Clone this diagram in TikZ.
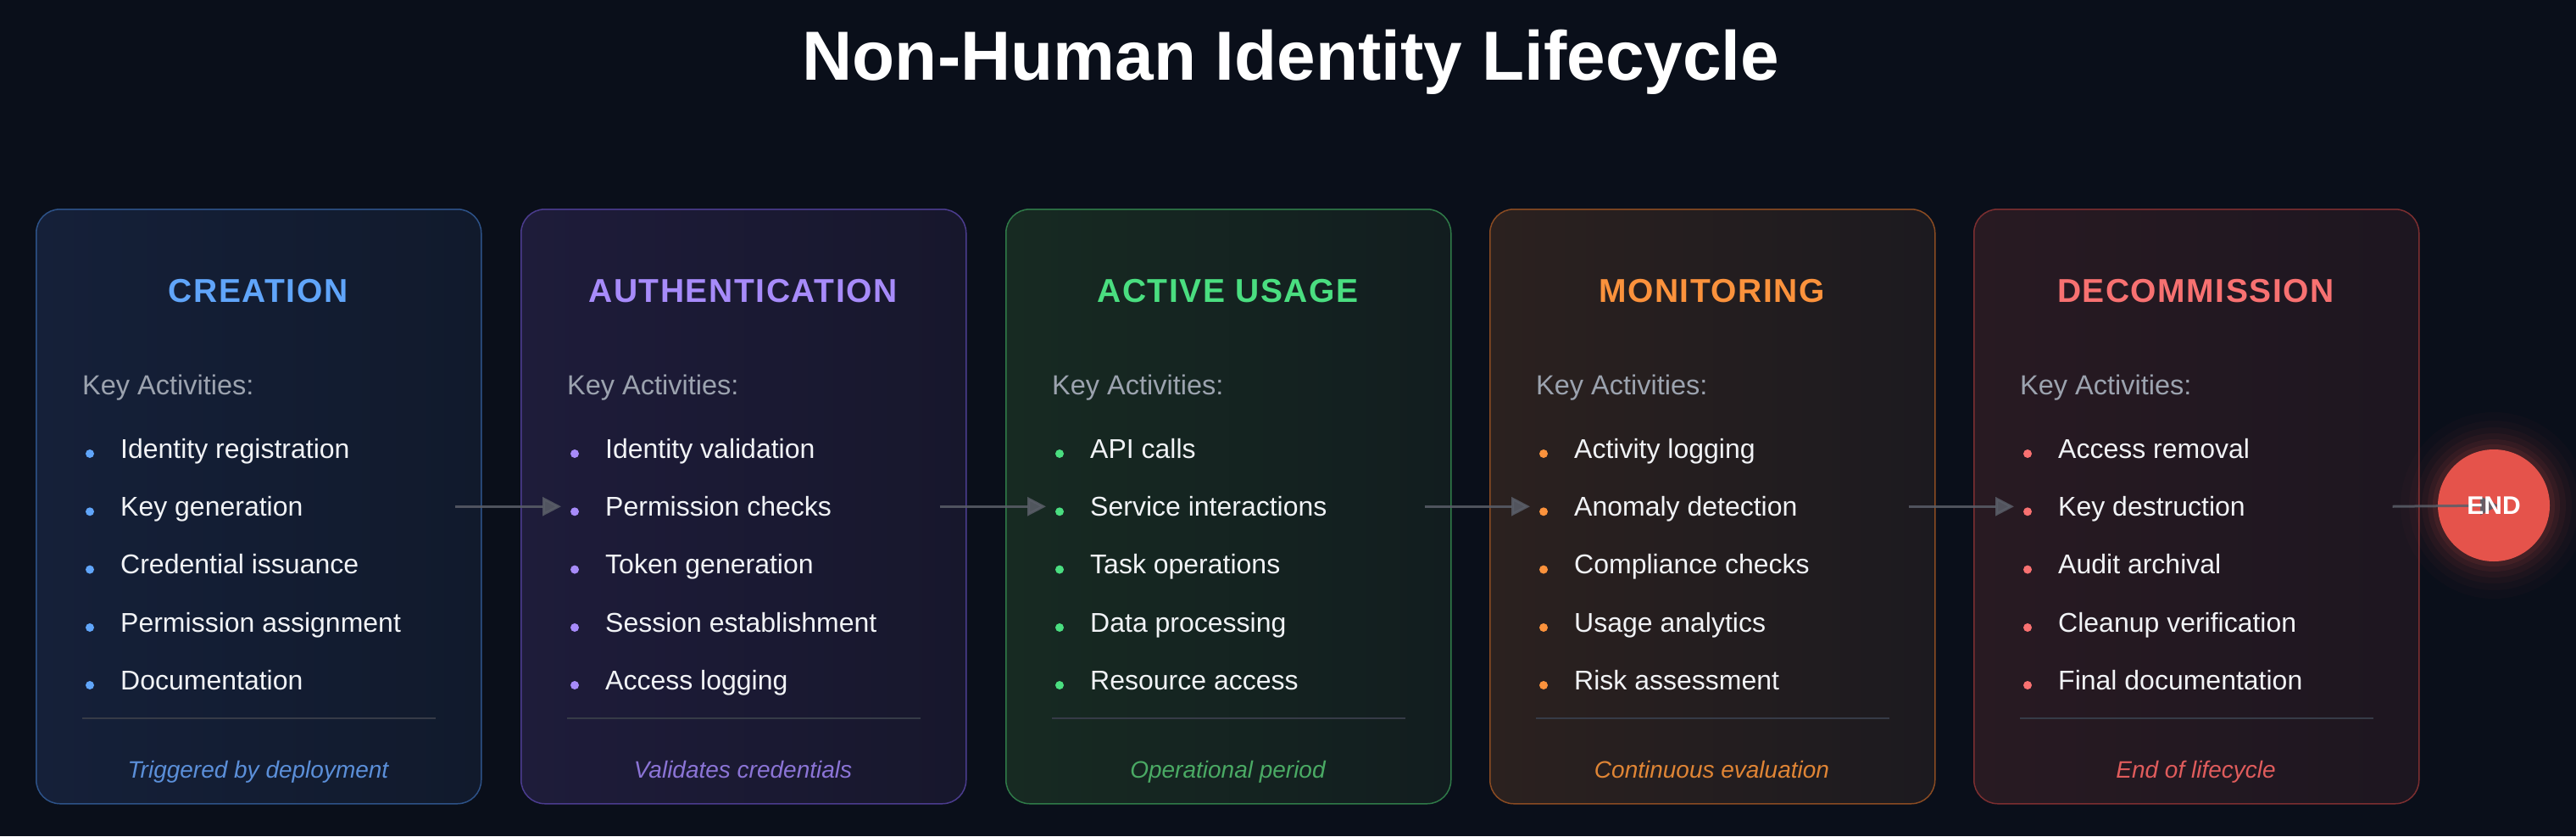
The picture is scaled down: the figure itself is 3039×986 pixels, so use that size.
\documentclass[tikz,border=0pt]{standalone}
\usepackage{fontspec}
\setmainfont{Liberation Sans}
\usetikzlibrary{arrows.meta}
\definecolor{bg}{HTML}{0A0F1A}
\definecolor{txt}{HTML}{F1F3F6}
\definecolor{keygray}{HTML}{9CA3AF}
\definecolor{sepgray}{HTML}{363B47}
\definecolor{arrowgray}{HTML}{5A5E68}
\definecolor{blueA}{HTML}{60A5FA}
\definecolor{purpleA}{HTML}{A78BFA}
\definecolor{greenA}{HTML}{4ADE80}
\definecolor{orangeA}{HTML}{FB923C}
\definecolor{redA}{HTML}{F87171}
\definecolor{blueF}{HTML}{5B8FD9}
\definecolor{purpleF}{HTML}{8B74D6}
\definecolor{greenF}{HTML}{4AAA64}
\definecolor{orangeF}{HTML}{E08535}
\definecolor{redF}{HTML}{E05C5C}
\definecolor{bgBlueA}{HTML}{152039}
\definecolor{bgBlueB}{HTML}{111A2C}
\definecolor{bgPurA}{HTML}{1E1C3A}
\definecolor{bgPurB}{HTML}{17172C}
\definecolor{bgGreenA}{HTML}{172A22}
\definecolor{bgGreenB}{HTML}{121D1F}
\definecolor{bgOrA}{HTML}{2B211F}
\definecolor{bgOrB}{HTML}{1C1A1F}
\definecolor{bgRedA}{HTML}{281A22}
\definecolor{bgRedB}{HTML}{1D1620}
\definecolor{bdBlue}{HTML}{2D5288}
\definecolor{bdPur}{HTML}{4B3C8E}
\definecolor{bdGreen}{HTML}{2F7A48}
\definecolor{bdOr}{HTML}{8A4B22}
\definecolor{bdRed}{HTML}{7C2E30}
\definecolor{endred}{HTML}{E5534B}
\tikzset{
  card/.style={rectangle, rounded corners=28pt, minimum width=525pt, minimum height=701pt, line width=1.5pt, shading angle=-45},
  cardtitle/.style={font=\fontsize{39}{44}\selectfont\bfseries\addfontfeatures{LetterSpace=4}, anchor=base, inner sep=0pt},
  keylbl/.style={font=\fontsize{32.5}{36}\selectfont, text=keygray, anchor=base west, inner sep=0pt},
  itemtxt/.style={font=\fontsize{32}{36}\selectfont, text=txt, anchor=base west, inner sep=0pt},
  foottxt/.style={font=\fontsize{28}{32}\selectfont\itshape, anchor=base, inner sep=0pt},
  bulletdot/.style={circle, minimum size=10pt, inner sep=0pt},
  flow/.style={draw=arrowgray, line width=3pt, opacity=0.85, -{Triangle[length=22pt,width=22pt]}},
}
\newcommand\cardbox[9]{%
  \pgfmathsetmacro\cx{#2+262.5}%
  \node[card, left color=#5, right color=#6, draw=#7, anchor=north west] (c#1) at (#2,246) {};
  \node[cardtitle, text=#4] (t#1) at (\cx,356) {#3};
  \node[keylbl] (k#1) at (#2+55,465) {Key Activities:};
  \coordinate (sl#1) at (#2+55,847);
  \coordinate (sr#1) at (#2+472,847);
  \draw[sepgray, line width=1.5pt] (sl#1) -- (sr#1);
  \node[foottxt, text=#8] (f#1) at (\cx,917) {#9};
}
\newcommand\cardsitems[8]{%
  \node[bulletdot, fill=#3] (d#1a) at (#2+64,535) {};
  \node[itemtxt] (i#1a) at (#2+100,540) {#4};
  \node[bulletdot, fill=#3] (d#1b) at (#2+64,603.3) {};
  \node[itemtxt] (i#1b) at (#2+100,608.3) {#5};
  \node[bulletdot, fill=#3] (d#1c) at (#2+64,671.6) {};
  \node[itemtxt] (i#1c) at (#2+100,676.6) {#6};
  \node[bulletdot, fill=#3] (d#1d) at (#2+64,740) {};
  \node[itemtxt] (i#1d) at (#2+100,745) {#7};
  \node[bulletdot, fill=#3] (d#1e) at (#2+64,808) {};
  \node[itemtxt] (i#1e) at (#2+100,813) {#8};
}
\begin{document}
\begin{tikzpicture}[x=1pt,y=-1pt]
\fill[bg] (0,0) rectangle (3039,986);
\useasboundingbox (0,0) rectangle (3039,986);
\node[font=\fontsize{82}{90}\selectfont\bfseries, text=white, anchor=base, inner sep=0pt] (title) at (1523,94) {Non-Human Identity Lifecycle};

\cardbox{1}{42}{CREATION}{blueA}{bgBlueA}{bgBlueB}{bdBlue}{blueF}{Triggered by deployment}
\cardsitems{1}{42}{blueA}{Identity registration}{Key generation}{Credential issuance}{Permission assignment}{Documentation}
\cardbox{2}{614}{AUTHENTICATION}{purpleA}{bgPurA}{bgPurB}{bdPur}{purpleF}{Validates credentials}
\cardsitems{2}{614}{purpleA}{Identity validation}{Permission checks}{Token generation}{Session establishment}{Access logging}
\cardbox{3}{1186}{ACTIVE USAGE}{greenA}{bgGreenA}{bgGreenB}{bdGreen}{greenF}{Operational period}
\cardsitems{3}{1186}{greenA}{API calls}{Service interactions}{Task operations}{Data processing}{Resource access}
\cardbox{4}{1757}{MONITORING}{orangeA}{bgOrA}{bgOrB}{bdOr}{orangeF}{Continuous evaluation}
\cardsitems{4}{1757}{orangeA}{Activity logging}{Anomaly detection}{Compliance checks}{Usage analytics}{Risk assessment}
\cardbox{5}{2328}{DECOMMISSION}{redA}{bgRedA}{bgRedB}{bdRed}{redF}{End of lifecycle}
\cardsitems{5}{2328}{redA}{Access removal}{Key destruction}{Audit archival}{Cleanup verification}{Final documentation}

% END circle with glow
\foreach \r/\o in {110/0.025,100/0.03,92/0.04,85/0.05,78/0.07,72/0.09}{
  \fill[endred, opacity=\o] (2942,596) circle (\r pt);
}
\node[circle, fill=endred, minimum size=132pt, inner sep=0pt] (end) at (2942,596) {};

% connectors
\draw[flow] ([xshift=-32pt]c1.east) -- ([xshift=48pt]c2.west);
\draw[flow] ([xshift=-32pt]c2.east) -- ([xshift=48pt]c3.west);
\draw[flow] ([xshift=-32pt]c3.east) -- ([xshift=48pt]c4.west);
\draw[flow] ([xshift=-32pt]c4.east) -- ([xshift=48pt]c5.west);
\draw[flow] ([xshift=-32pt]c5.east) -- ([xshift=6pt]end.center);

\node[font=\fontsize{30}{34}\selectfont\bfseries, text=white, inner sep=0pt] (endlbl) at (end.center) {END};
\end{tikzpicture}
\end{document}
